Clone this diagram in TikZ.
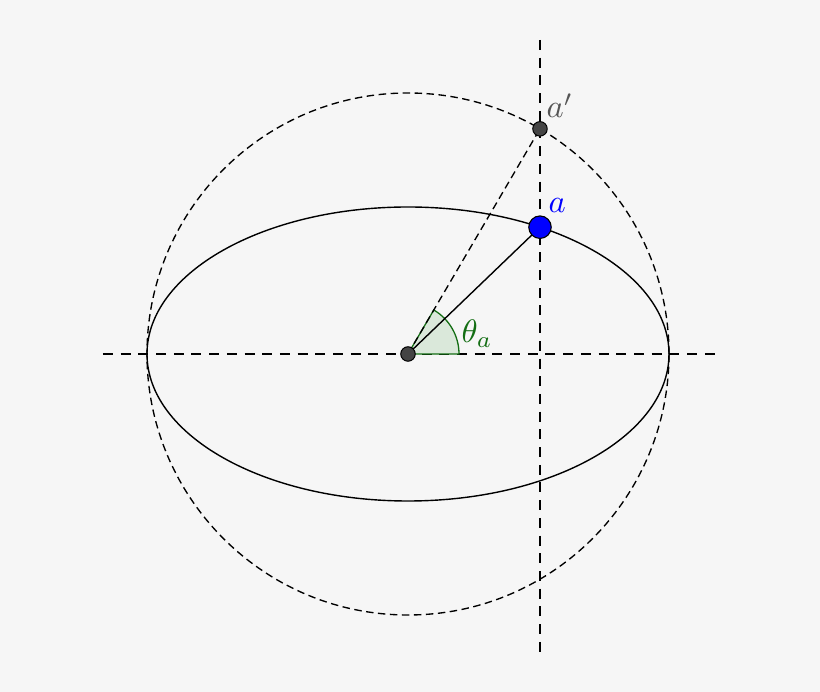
\documentclass[tikz,border=0pt]{standalone}
\begin{document}
\begin{tikzpicture}[x=1pt,y=1pt,
  axisline/.style={draw=black,line width=1.5pt,dash pattern=on 10pt off 7.7pt},
  dashline/.style={draw=black,line width=1.35pt,dash pattern=on 7.5pt off 4.5pt},
  solidline/.style={draw=black,line width=1.4pt},
  smalldot/.style={circle,draw=black,line width=1pt,fill=dotgray,minimum size=14.5pt,inner sep=0pt},
  bigdot/.style={circle,draw=black,line width=1.1pt,fill=blue,minimum size=22.5pt,inner sep=0pt},
  lbl/.style={scale=3.25,inner sep=0pt,anchor=base west}]
\definecolor{bg}{RGB}{246,246,246}
\definecolor{dotgray}{RGB}{68,68,68}
\definecolor{lblgray}{RGB}{85,85,85}
\definecolor{thgreen}{RGB}{20,110,20}
\definecolor{secfill}{RGB}{218,232,218}
\fill[bg] (-408,-338) rectangle (412,354);
\useasboundingbox (-408,-338) rectangle (412,354);
\coordinate (o) at (0,0);
\coordinate (hl) at (-305,0);
\coordinate (hr) at (308,0);
\coordinate (vt) at (132,314);
\coordinate (vb) at (132,-298);
\coordinate (pap) at (59.62:261);
\coordinate (pa) at (132,126.8);
\draw[axisline] (hl) -- (hr);
\draw[axisline] (vt) -- (vb);
\draw[dashline] (o) circle[radius=261];
\draw[solidline] (o) ellipse[x radius=261,y radius=147];
\filldraw[fill=secfill,draw=thgreen,line width=1.3pt] (o) -- (51,0) arc[start angle=0,end angle=59.62,radius=51] -- cycle;
\draw[dashline] (o) -- (pap);
\draw[solidline] (o) -- (pa);
\node[smalldot] (c) at (o) {};
\node[smalldot] (ap) at (pap) {};
\node[bigdot] (a) at (pa) {};
\node[lbl,text=lblgray] (lap) at (138,236) {$a'$};
\node[lbl,text=blue] (la) at (140,141) {$a$};
\node[lbl,text=thgreen] (lth) at (53,11) {$\theta_a$};
\end{tikzpicture}
\end{document}
